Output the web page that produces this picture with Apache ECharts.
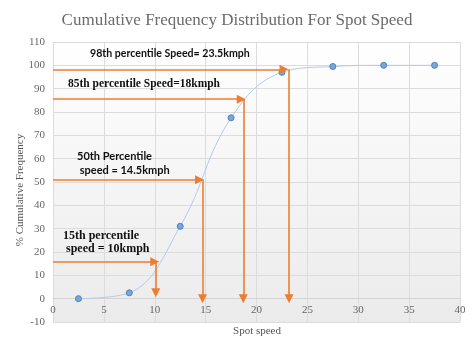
<!DOCTYPE html>
<html>
<head>
<meta charset="utf-8">
<style>
  html, body { margin: 0; padding: 0; background: #fff; }
  #chart { width: 474px; height: 351px; }
</style>
<script src="https://cdn.jsdelivr.net/npm/echarts@6/dist/echarts.min.js"></script>
</head>
<body>
<div id="chart"></div>
<script>
// 累积频率数据（组中值 / 累积百分比）
var speeds = [2.5, 7.5, 12.5, 17.5, 22.5, 27.5, 32.5, 37.5];
var cumFreq = [0, 2.5, 31, 77.5, 97, 99.5, 100, 100];

// 百分位箭头：水平线 (0,y)->(x,y)，竖线 (x,y)->(x,yEnd)
var pctLevels = [98.3, 85.5, 51, 15.8];
var pctHitX = [22.7, 18.5, 14.4, 10.0];
var pctDropX = [23.2, 18.7, 14.7, 10.1];
var pctDropEnd = [0, 0, 0, 2.5];

var ORANGE = '#ed7d31';
var SERIF = '"Liberation Serif", "DejaVu Serif", serif';
var SANS = 'Lato, "Liberation Sans", sans-serif';

var GRID_TOP = 42, GRID_BOTTOM = 29, H = 351;
var Y_MIN = -10, Y_MAX = 110;
// x 轴在 y=0 处与纵轴相交（Excel 样式）：向上平移 10 个单位
var zeroShift = (H - GRID_TOP - GRID_BOTTOM) * (0 - Y_MIN) / (Y_MAX - Y_MIN);

var arrowData = [];
pctLevels.forEach(function (y, i) {
  arrowData.push({ coords: [[0, y], [pctHitX[i], y]] });
  arrowData.push({ coords: [[pctDropX[i], y], [pctDropX[i], pctDropEnd[i]]] });
});

var chart = echarts.init(document.getElementById('chart'));
chart.setOption({
  animation: false,
  title: {
    text: 'Cumulative Frequency Distribution For Spot Speed',
    left: 'center', top: 7,
    textStyle: { fontFamily: SERIF, fontSize: 17, fontWeight: 'normal', color: '#6b6b6b' }
  },
  grid: {
    left: 53, right: 14, top: GRID_TOP, bottom: GRID_BOTTOM,
    outerBoundsMode: 'none',
    containLabel: false,
    show: true, borderWidth: 0,
    backgroundColor: new echarts.graphic.LinearGradient(0, 0, 0, 1, [
      { offset: 0, color: '#ffffff' },
      { offset: 1, color: '#ebebeb' }
    ])
  },
  xAxis: {
    type: 'value', min: 0, max: 40, interval: 5,
    offset: -zeroShift,
    axisLine: { show: true, onZero: false, lineStyle: { color: '#d4d4d4' } },
    axisTick: { show: false },
    axisLabel: { fontFamily: SERIF, fontSize: 11, color: '#666', margin: 6 },
    splitLine: { lineStyle: { color: '#dcdcdc' } }
  },
  yAxis: {
    type: 'value', min: Y_MIN, max: Y_MAX, interval: 10,
    axisLine: { show: false, onZero: false },
    axisTick: { show: false },
    axisLabel: { fontFamily: SERIF, fontSize: 11, color: '#666', margin: 8 },
    splitLine: { lineStyle: { color: '#dcdcdc' } }
  },
  series: [{
    type: 'line',
    data: speeds.map(function (s, i) { return [s, cumFreq[i]]; }),
    smooth: 0.4,
    symbol: 'circle', symbolSize: 6,
    lineStyle: { color: '#b4cbe8', width: 1 },
    itemStyle: { color: '#79a6dc', borderColor: '#4f81bd', borderWidth: 1 },
    z: 2
  }, {
    type: 'lines',
    coordinateSystem: 'cartesian2d',
    silent: true,
    symbol: ['none', 'triangle'],
    symbolSize: [8, 9],
    lineStyle: { color: ORANGE, width: 1.6, opacity: 1 },
    data: arrowData,
    z: 3
  }],
  graphic: [
    { type: 'text', x: 257, y: 331, z: 100,
      style: { text: 'Spot speed', font: '11px ' + SERIF, fill: '#555', align: 'center', verticalAlign: 'middle' } },
    { type: 'text', x: 20, y: 190, rotation: Math.PI / 2, z: 100,
      style: { text: '% Cumulative Frequency', font: '11px ' + SERIF, fill: '#555', align: 'center', verticalAlign: 'middle' } },
    { type: 'text', left: 90, top: 48, z: 100,
      style: { text: '98th percentile Speed= 23.5kmph', font: 'bold 10.6px ' + SANS, fill: '#111' } },
    { type: 'text', left: 68, top: 78, z: 100,
      style: { text: '85th percentile Speed=18kmph', font: 'bold 11.5px ' + SERIF, fill: '#111' } },
    { type: 'text', left: 77, top: 149, z: 100,
      style: { text: '50th Percentile\n speed = 14.5kmph', font: 'bold 11px ' + SANS, fill: '#111', lineHeight: 14 } },
    { type: 'text', left: 63, top: 229, z: 100,
      style: { text: '15th percentile\n speed = 10kmph', font: 'bold 12px ' + SERIF, fill: '#111', lineHeight: 13 } }
  ]
});
</script>
</body>
</html>
